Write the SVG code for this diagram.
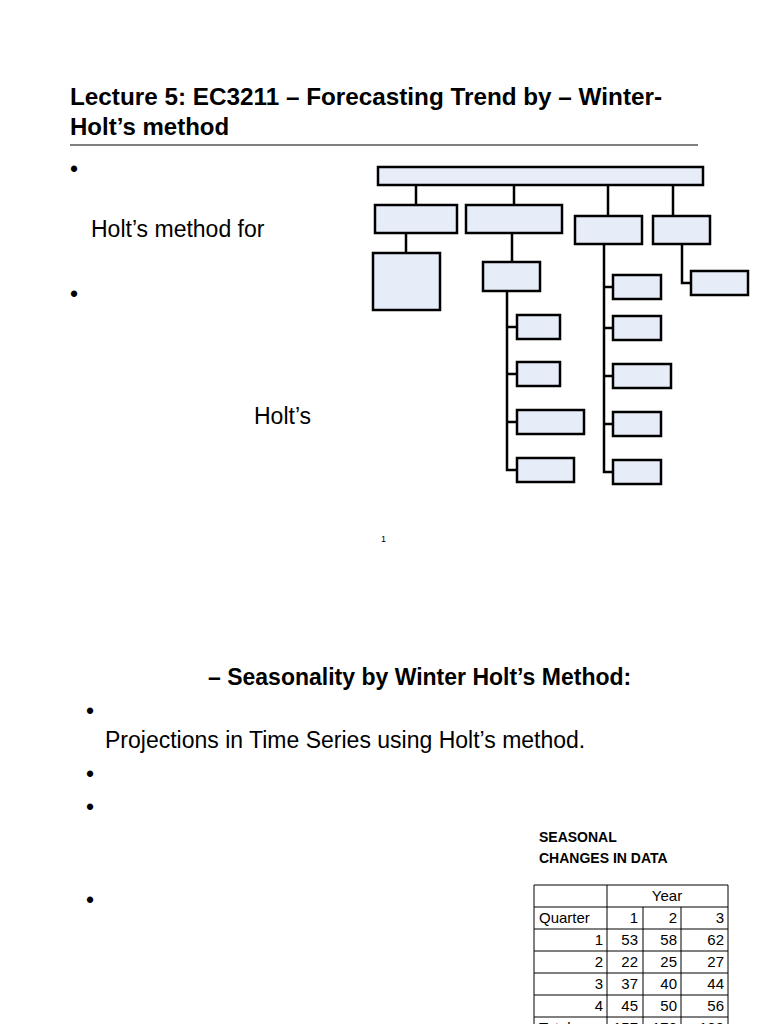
<svg xmlns="http://www.w3.org/2000/svg" width="768" height="1024" viewBox="0 0 768 1024">
<style>
.t{font-family:"Liberation Sans",Arial,sans-serif;fill:#000}
.b{fill:#e6edf8;stroke:#000;stroke-width:2.5}
.c{fill:none;stroke:#000;stroke-width:2.5}
.g{stroke:#000;stroke-width:1;fill:none}
.n{font-family:"Liberation Sans",Arial,sans-serif;font-size:15px;fill:#000}
</style>
<rect width="768" height="1024" fill="#fff"/>
<text class="t" x="70" y="105" font-size="24" font-weight="bold" textLength="592" lengthAdjust="spacingAndGlyphs">Lecture 5: EC3211 – Forecasting Trend by – Winter-</text>
<text class="t" x="70" y="135" font-size="24" font-weight="bold">Holt’s method</text>
<line x1="70" y1="145" x2="698" y2="145" stroke="#000" stroke-width="1"/>
<g font-size="23" class="t">
<text class="t" x="70" y="177">•</text>
<text class="t" x="70" y="302">•</text>
<text class="t" x="86" y="719">•</text>
<text class="t" x="86" y="782">•</text>
<text class="t" x="86" y="815">•</text>
<text class="t" x="86" y="908">•</text>
<text class="t" x="91" y="237">Holt’s method for</text>
<text class="t" x="254" y="424">Holt’s</text>
<text class="t" x="208" y="685" font-weight="bold">– Seasonality by Winter Holt’s Method:</text>
<text class="t" x="105" y="748">Projections in Time Series using Holt’s method.</text>
</g>
<text class="t" x="381" y="542" font-size="9">1</text>
<g id="connectors">
<path class="c" d="M416 185V205M514 185V205M608 185V216M673 185V216M406 233V253M512 233V262M507 291V470H517M507 327H517M507 374H517M507 422H517M604 244V472H613M604 287H613M604 328H613M604 376H613M604 424H613M682 244V283H691"/>
</g>
<g id="n0"><rect class="b" x="378" y="167" width="325" height="18"/></g>
<g id="n1"><rect class="b" x="375" y="205" width="82" height="28"/></g>
<g id="n2"><rect class="b" x="466" y="205" width="96" height="28"/></g>
<g id="n3"><rect class="b" x="575" y="216" width="67" height="28"/></g>
<g id="n4"><rect class="b" x="653" y="216" width="57" height="28"/></g>
<g id="n5"><rect class="b" x="373" y="253" width="67" height="57"/></g>
<g id="n6"><rect class="b" x="483" y="262" width="57" height="29"/></g>
<g id="n7"><rect class="b" x="517" y="315" width="43" height="24"/></g>
<g id="n8"><rect class="b" x="517" y="362" width="43" height="24"/></g>
<g id="n9"><rect class="b" x="517" y="410" width="67" height="24"/></g>
<g id="n10"><rect class="b" x="517" y="458" width="57" height="24"/></g>
<g id="n11"><rect class="b" x="613" y="275" width="48" height="24"/></g>
<g id="n12"><rect class="b" x="613" y="316" width="48" height="24"/></g>
<g id="n13"><rect class="b" x="613" y="364" width="58" height="24"/></g>
<g id="n14"><rect class="b" x="613" y="412" width="48" height="24"/></g>
<g id="n15"><rect class="b" x="613" y="460" width="48" height="24"/></g>
<g id="n16"><rect class="b" x="691" y="271" width="57" height="24"/></g>
<g id="table">
<text class="t" x="539" y="842" font-size="14" font-weight="bold">SEASONAL</text>
<text class="t" x="539" y="863" font-size="14" font-weight="bold">CHANGES IN DATA</text>
<path class="g" d="M534 885H728M534 907H728M534 929H728M534 951H728M534 973H728M534 995H728M534 1017H728M534 885V1030M607 885V1030M728 885V1030M643 907V1030M681 907V1030"/>
<text class="n" x="667" y="901" text-anchor="middle">Year</text>
<text class="n" x="539" y="923">Quarter</text>
<g text-anchor="end">
<text class="n" x="638" y="923">1</text><text class="n" x="677" y="923">2</text><text class="n" x="724" y="923">3</text>
<text class="n" x="603" y="945">1</text><text class="n" x="638" y="945">53</text><text class="n" x="677" y="945">58</text><text class="n" x="724" y="945">62</text>
<text class="n" x="603" y="967">2</text><text class="n" x="638" y="967">22</text><text class="n" x="677" y="967">25</text><text class="n" x="724" y="967">27</text>
<text class="n" x="603" y="989">3</text><text class="n" x="638" y="989">37</text><text class="n" x="677" y="989">40</text><text class="n" x="724" y="989">44</text>
<text class="n" x="603" y="1011">4</text><text class="n" x="638" y="1011">45</text><text class="n" x="677" y="1011">50</text><text class="n" x="724" y="1011">56</text>
<text class="n" x="638" y="1033">157</text><text class="n" x="677" y="1033">173</text><text class="n" x="724" y="1033">189</text>
</g>
<text class="n" x="539" y="1033">Total</text>
</g>
</svg>
